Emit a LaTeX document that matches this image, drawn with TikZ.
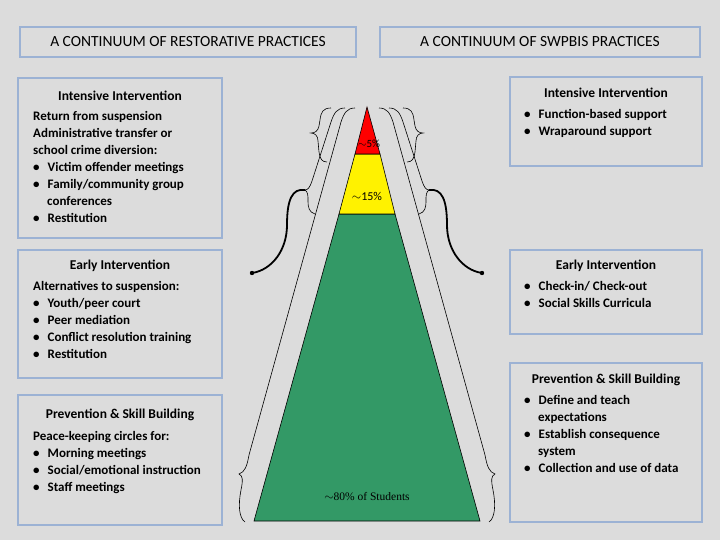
\documentclass[tikz,border=0pt]{standalone}
\usepackage{fontspec}
\setmainfont{Carlito}
\newfontfamily\serifx{Liberation Serif}
\begin{document}
\begin{tikzpicture}[x=1pt,y=-1pt,
  box/.style={draw=boxblue,line width=1.5pt},
  txt/.style={anchor=north west,align=left,inner sep=0pt,font=\fontsize{13}{17}\selectfont\bfseries},
  ttl/.style={anchor=center,inner sep=0pt,font=\fontsize{13.5}{15}\selectfont\bfseries},
  br/.style={line width=0.6pt},
  arr/.style={line width=1.8pt}]
\definecolor{bg}{HTML}{DCDCDC}
\definecolor{boxblue}{HTML}{9CB2D4}
\definecolor{grn}{HTML}{339966}
\useasboundingbox (0,0) rectangle (720,540);
\fill[bg] (0,0) rectangle (720,540);
% title boxes
\node[box,minimum width=336pt,minimum height=30pt,font=\fontsize{15.5}{17}\selectfont] (t1) at (188,42) {A CONTINUUM OF RESTORATIVE PRACTICES};
\node[box,minimum width=320pt,minimum height=30pt,font=\fontsize{15.5}{17}\selectfont] (t2) at (540,42) {A CONTINUUM OF SWPBIS PRACTICES};
% left boxes
\draw[box] (18,78) rectangle (222,238);
\node[ttl] (l1t) at (120,96) {Intensive Intervention};
\node[txt] (l1) at (33,111) {Return from suspension\\Administrative transfer or\\school crime diversion:\\\textbullet\hspace{8pt}Victim offender meetings\\\textbullet\hspace{8pt}Family/community group\\\hspace{14pt}conferences\\\textbullet\hspace{8pt}Restitution};
\draw[box] (18,250) rectangle (222,378);
\node[ttl] (l2t) at (120,266) {Early Intervention};
\node[txt] (l2) at (33,281) {Alternatives to suspension:\\\textbullet\hspace{8pt}Youth/peer court\\\textbullet\hspace{8pt}Peer mediation\\\textbullet\hspace{8pt}Conflict resolution training\\\textbullet\hspace{8pt}Restitution};
\draw[box] (18,395) rectangle (222,525);
\node[ttl] (l3t) at (120,415) {Prevention \& Skill Building};
\node[txt] (l3) at (33,431) {Peace-keeping circles for:\\\textbullet\hspace{8pt}Morning meetings\\\textbullet\hspace{8pt}Social/emotional instruction\\\textbullet\hspace{8pt}Staff meetings};
% right boxes
\draw[box] (510,77) rectangle (702,166);
\node[ttl] (r1t) at (606,93) {Intensive Intervention};
\node[txt] (r1) at (524,109) {\textbullet\hspace{8pt}Function-based support\\\textbullet\hspace{8pt}Wraparound support};
\draw[box] (510,250) rectangle (702,334);
\node[ttl] (r2t) at (606,266) {Early Intervention};
\node[txt] (r2) at (524,281) {\textbullet\hspace{8pt}Check-in/ Check-out\\\textbullet\hspace{8pt}Social Skills Curricula};
\draw[box] (510,363) rectangle (702,522);
\node[ttl] (r3t) at (606,380) {Prevention \& Skill Building};
\node[txt] (r3) at (524,395) {\textbullet\hspace{8pt}Define and teach\\\hspace{14pt}expectations\\\textbullet\hspace{8pt}Establish consequence\\\hspace{14pt}system\\\textbullet\hspace{8pt}Collection and use of data};
% pyramid
\filldraw[fill=grn,draw=black,line width=0.6pt] (339,214) -- (395,214) -- (480,521) -- (254,521) -- cycle;
\filldraw[fill=yellow,draw=black,line width=0.6pt] (355,154) -- (380,154) -- (395,214) -- (339,214) -- cycle;
\filldraw[fill=red,draw=black,line width=0.6pt] (367,107) -- (380,154) -- (355,154) -- cycle;
\node[font=\fontsize{11}{12}\selectfont] (p5) at (369,144) {$\sim$5\%};
\node[font=\fontsize{12}{13}\selectfont] (p15) at (367,196) {$\sim$15\%};
\node[font=\serifx\fontsize{11.5}{12}\selectfont] (p80) at (367,497) {$\sim$80\% of Students};
% braces (left and right mirrored)
\foreach \s in {1,-1}{
\begin{scope}[xshift=367pt,xscale=\s]
 % top brace
 \draw[br] (-36,108) .. controls (-44,108) and (-46,112) .. (-47,120) -- (-48,126) .. controls (-49,131) and (-52,133) .. (-56,133)
   .. controls (-52,133) and (-49,136) .. (-49,141) -- (-48,152) .. controls (-47,159) and (-45,162) .. (-40,162);
 % middle brace
 \draw[br] (-22,108) .. controls (-30,108) and (-33,113) .. (-36,122) -- (-55,181) .. controls (-57,187) and (-59,190) .. (-62,190)
   .. controls (-59,192) and (-59,196) .. (-59,200) .. controls (-59,208) and (-58,212) .. (-52,214);
 % large brace
 \draw[br] (-12,108) .. controls (-20,108) and (-23,113) .. (-26,122) -- (-118,455) .. controls (-120,466) and (-122,472) .. (-128,474)
   .. controls (-124,476) and (-124,480) .. (-126,490) .. controls (-129,505) and (-128,518) .. (-122,522);
 % thick arrow
 \draw[arr] (-62,190) .. controls (-75,188) and (-80,200) .. (-80,225) .. controls (-80,250) and (-95,270) .. (-115,273);
 \fill (-115,273) circle (2.2pt);
\end{scope}}
\end{tikzpicture}
\end{document}
